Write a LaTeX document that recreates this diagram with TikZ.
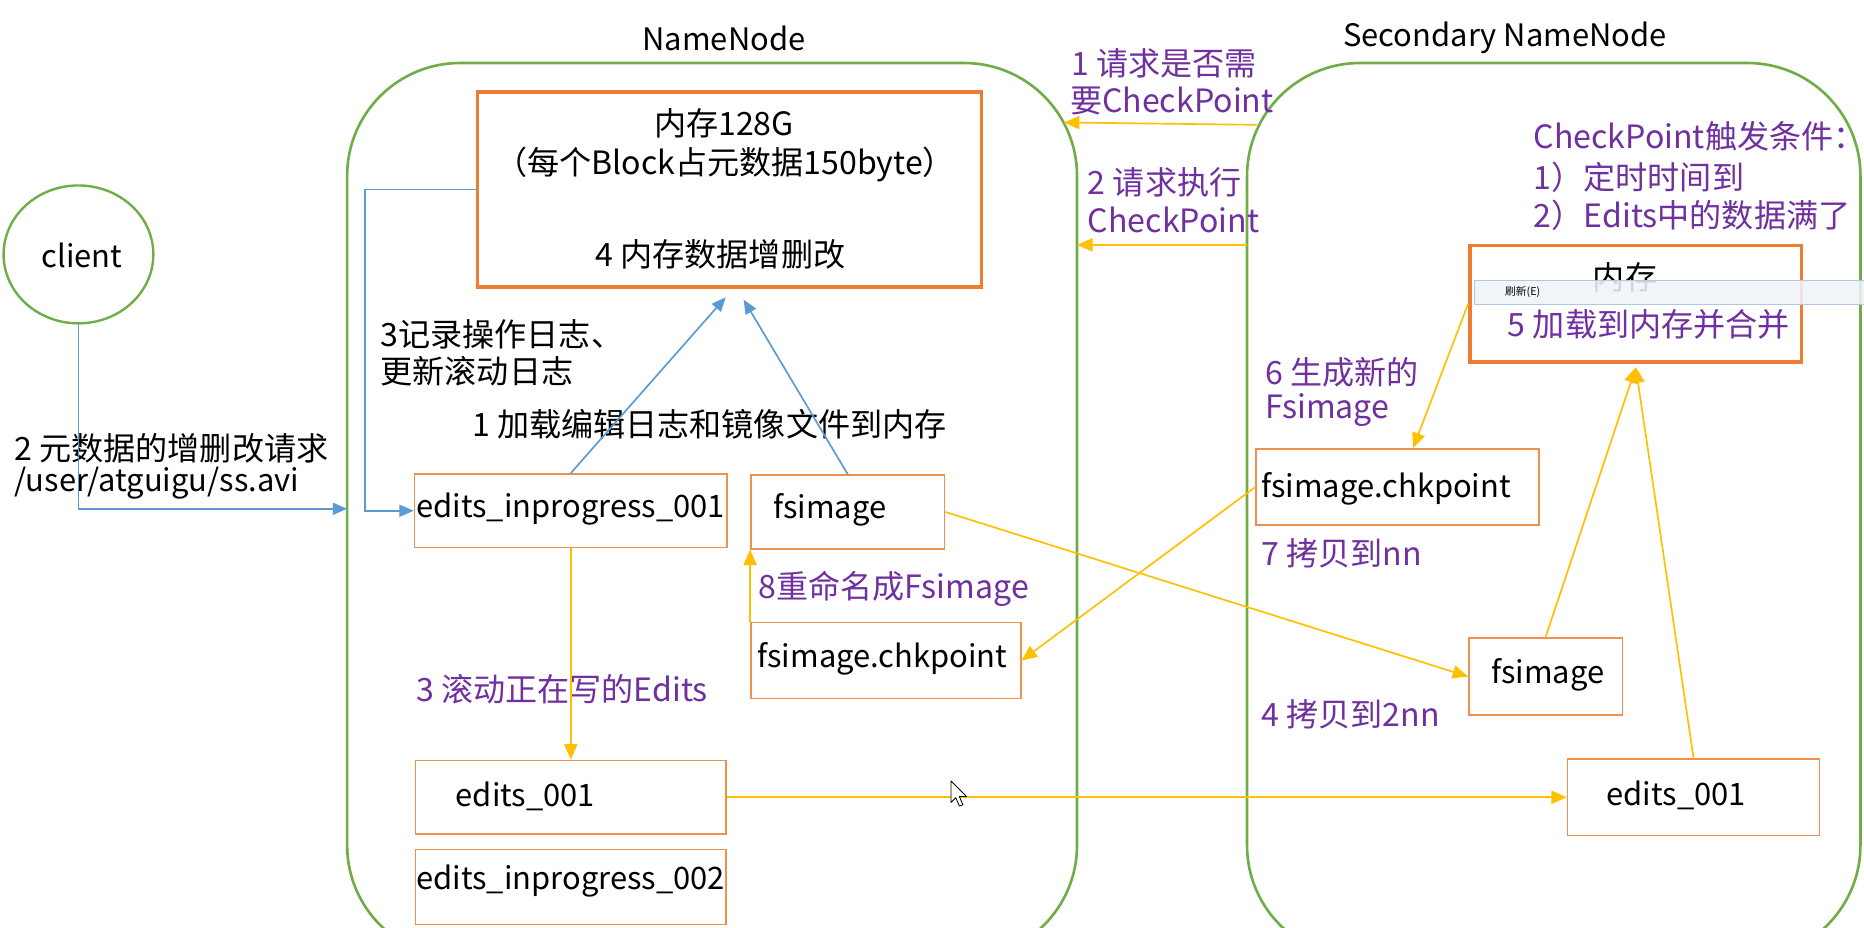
\documentclass[tikz,border=0pt]{standalone}
\usepackage{fontspec}
\setmainfont{Noto Sans CJK SC}
\usetikzlibrary{arrows.meta,calc,shapes.geometric}
\definecolor{grn}{RGB}{112,173,71}
\definecolor{org}{RGB}{237,125,49}
\definecolor{yel}{RGB}{255,192,0}
\definecolor{blu}{RGB}{91,155,213}
\definecolor{pur}{RGB}{112,48,160}
\definecolor{menubg}{RGB}{240,243,248}
\definecolor{menubd}{RGB}{176,198,226}
\begin{document}
\begin{tikzpicture}[x=1pt,y=-1pt,font=\fontsize{27}{32}\selectfont,
  container/.style={draw=grn,line width=2.2pt,rounded corners=95pt},
  memb/.style={draw=org,line width=3pt,inner sep=0pt,anchor=north west},
  tbox/.style={draw=org!85,line width=1.3pt,inner sep=0pt,anchor=north west},
  txt/.style={inner sep=0pt,text=black},
  ltxt/.style={inner sep=0pt,text=black,font=\fontsize{26}{30}\selectfont},
  ptxt/.style={inner sep=0pt,text=pur},
  yarr/.style={draw=yel,line width=1.4pt,-{Triangle[length=13pt,width=11pt]}},
  barr/.style={draw=blu,line width=1.4pt,-{Triangle[length=12pt,width=10pt]}}]
\clip (0,0) rectangle (1568,780);
\fill[white] (0,0) rectangle (1568,780);
% containers
\draw[container] (292,53) rectangle (906,806);
\draw[container] (1049,53) rectangle (1565,806);
\node[ltxt] (t1) at (609,32) {NameNode};
\node[ltxt] (t2) at (1266,32) {Secondary NameNode};
% client
\node[draw=grn,line width=2pt,ellipse,minimum width=126pt,minimum height=116pt,inner sep=0pt] (client) at (66,214) {};
\node[ltxt] (tclient) at (69,215) {client};
% NameNode boxes
\node[memb,minimum width=424pt,minimum height=164pt] (mem) at (400,76) {};
\node[txt] (m1) at (609,104) {内存128G};
\node[txt] (m2) at (610,138) {（每个Block占元数据150byte）};
\node[txt] (m3) at (606,214) {4 内存数据增删改};
\node[tbox,minimum width=263pt,minimum height=62pt] (eip1) at (348,398) {};
\node[ltxt] (teip1) at (480,428) {edits\_inprogress\_001};
\node[tbox,minimum width=163pt,minimum height=62pt] (fsN) at (631,399) {};
\node[ltxt] (tfsN) at (698,429) {fsimage};
\node[tbox,minimum width=227pt,minimum height=64pt] (chkN) at (631,523) {};
\node[ltxt,anchor=west] (tchkN) at (637,554) {fsimage.chkpoint};
\node[tbox,minimum width=261pt,minimum height=62pt] (edN) at (349,639) {};
\node[ltxt] (tedN) at (442,670) {edits\_001};
\node[tbox,minimum width=261pt,minimum height=63pt] (eip2) at (349,714) {};
\node[ltxt] (teip2) at (480,741) {edits\_inprogress\_002};
% NameNode labels
\node[txt,anchor=west] (l2a) at (12,377) {2 元数据的增删改请求};
\node[ltxt,anchor=west] (l2b) at (12,406) {/user/atguigu/ss.avi};
\node[txt,anchor=west] (l3a) at (320,281) {3记录操作日志、};
\node[txt,anchor=west] (l3b) at (320,312) {更新滚动日志};
\node[txt,anchor=west] (l1) at (397,357) {1 加载编辑日志和镜像文件到内存};
\node[ptxt,anchor=west] (p3) at (350,580) {3 滚动正在写的Edits};
\node[ptxt,anchor=west] (p8) at (638,495) {8重命名成Fsimage};
% Secondary NameNode boxes
\node[memb,minimum width=279pt,minimum height=98pt] (mem2) at (1235,205) {};
\node[txt] (tmem2) at (1367,233) {内存};
\fill[menubg,opacity=0.88] (1240,236) rectangle (1568,256);
\draw[menubd,line width=0.8pt] (1240,236) rectangle (1580,256);
\node[txt,font=\fontsize{9}{10}\selectfont,anchor=west] (menu) at (1266,246) {刷新(E)};
\node[ptxt] (p5) at (1387,273) {5 加载到内存并合并};
\node[tbox,minimum width=238pt,minimum height=64pt] (chkS) at (1056,377) {};
\node[ltxt] (tchkS) at (1166,411) {fsimage.chkpoint};
\node[tbox,minimum width=129pt,minimum height=65pt] (fsS) at (1235,536) {};
\node[ltxt] (tfsS) at (1302,568) {fsimage};
\node[tbox,minimum width=212pt,minimum height=64pt] (edS) at (1318,638) {};
\node[ltxt] (tedS) at (1410,669) {edits\_001};
% Secondary labels
\node[ptxt,anchor=west] (p1a) at (901,53) {1 请求是否需};
\node[ptxt,anchor=west] (p1b) at (900,85) {要CheckPoint};
\node[ptxt,anchor=west] (p2a) at (915,153) {2 请求执行};
\node[ptxt,anchor=west] (p2b) at (915,185) {CheckPoint};
\node[ptxt,anchor=west] (c1) at (1290,115) {CheckPoint触发条件：};
\node[ptxt,anchor=west] (c2) at (1290,149) {1）定时时间到};
\node[ptxt,anchor=west] (c3) at (1290,181) {2）Edits中的数据满了};
\node[ptxt,anchor=west] (p6a) at (1064,313) {6 生成新的};
\node[ptxt,anchor=west] (p6b) at (1064,345) {Fsimage};
\node[ptxt,anchor=west] (p7) at (1061,465) {7 拷贝到nn};
\node[ptxt,anchor=west] (p4) at (1061,601) {4 拷贝到2nn};
% coordinates
\coordinate (nnL) at (292,428);
\coordinate (snA) at (1057,105);
\coordinate (nnA) at (895,103);
\coordinate (snB) at (1049,206);
\coordinate (nnB) at (906,206);
% blue connectors
\draw[barr] (client.south) |- (nnL);
\draw[barr] (mem.west) -- ++(-93,0) |- (eip1.west);
\draw[barr] (eip1.north) -- ([xshift=-3pt,yshift=-7pt]mem.south);
\draw[barr] (fsN.north) -- ([xshift=12pt,yshift=-9pt]mem.south);
% yellow connectors
\draw[yarr] (snA) -- (nnA);
\draw[yarr] (snB) -- (nnB);
\draw[yarr] (eip1.south) -- (edN.north -| eip1.south);
\draw[yarr] (chkN.north west) -- (fsN.south west);
\draw[yarr] (fsN.east) -- (fsS.west);
\draw[yarr] (chkS.west) -- (chkN.east);
\draw[yarr] (edN.east) -- (edS.west);
\draw[yarr] (mem2.west) -- ([xshift=13pt]chkS.north);
\draw[yarr] (fsS.north) -- ([yshift=-3pt]mem2.south);
\draw[yarr] (edS.north) -- ([yshift=-3pt]mem2.south);
% mouse cursor
\draw[black,fill=white,line width=0.7pt,line join=round] (800,657) -- (800,675) -- (804,671) -- (807,678) -- (810,677) -- (807,670) -- (813,670) -- cycle;
\end{tikzpicture}
\end{document}
